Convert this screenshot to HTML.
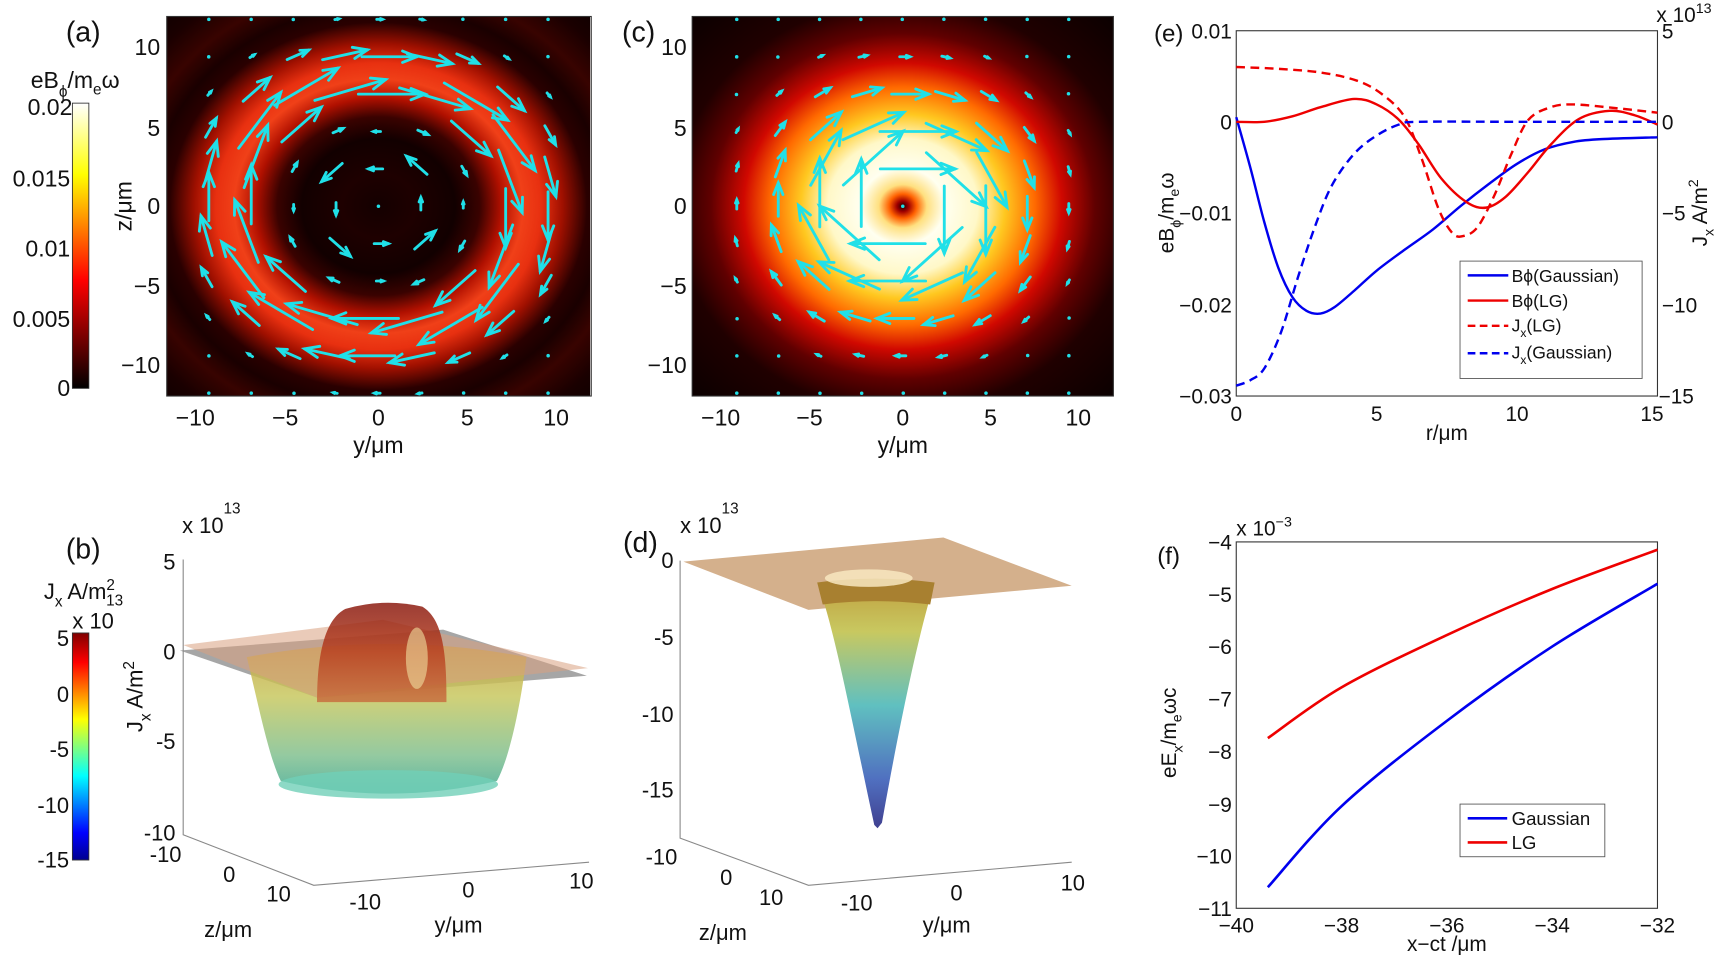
<!DOCTYPE html>
<html><head><meta charset="utf-8">
<style>
html,body{margin:0;padding:0;background:#fff;}
svg{display:block;font-family:"Liberation Sans",sans-serif;}
text{fill:#111;}
</style></head>
<body>
<svg id="s" width="1720" height="959" viewBox="0 0 1568 874.2" xmlns="http://www.w3.org/2000/svg">
<defs>
<radialGradient id="ga" gradientUnits="userSpaceOnUse" cx="0" cy="0" r="17">
<stop offset="0" stop-color="#140000"/>
<stop offset="0.12" stop-color="#1e0000"/>
<stop offset="0.25" stop-color="#120000"/>
<stop offset="0.33" stop-color="#3a0200"/>
<stop offset="0.4" stop-color="#b01000"/>
<stop offset="0.47" stop-color="#f04018"/>
<stop offset="0.53" stop-color="#e83010"/>
<stop offset="0.6" stop-color="#a01000"/>
<stop offset="0.68" stop-color="#2a0000"/>
<stop offset="0.74" stop-color="#1a0000"/>
<stop offset="0.82" stop-color="#380300"/>
<stop offset="0.92" stop-color="#1a0000"/>
<stop offset="1" stop-color="#100000"/>
</radialGradient>
<radialGradient id="gc" gradientUnits="userSpaceOnUse" cx="0" cy="0" r="17">
<stop offset="0" stop-color="#200000"/>
<stop offset="0.02" stop-color="#a00000"/>
<stop offset="0.045" stop-color="#ff6000"/>
<stop offset="0.08" stop-color="#ffe080"/>
<stop offset="0.14" stop-color="#fffff0"/>
<stop offset="0.25" stop-color="#fff8c8"/>
<stop offset="0.34" stop-color="#ffc820"/>
<stop offset="0.44" stop-color="#ff6a00"/>
<stop offset="0.53" stop-color="#d00800"/>
<stop offset="0.64" stop-color="#600000"/>
<stop offset="0.76" stop-color="#200000"/>
<stop offset="1" stop-color="#0a0000"/>
</radialGradient>
<linearGradient id="hot" x1="0" y1="1" x2="0" y2="0">
<stop offset="0" stop-color="#000"/><stop offset="0.38" stop-color="#f00"/>
<stop offset="0.75" stop-color="#ff0"/><stop offset="1" stop-color="#fff"/>
</linearGradient>
<linearGradient id="jet" x1="0" y1="1" x2="0" y2="0">
<stop offset="0" stop-color="#00008f"/><stop offset="0.12" stop-color="#0000ff"/>
<stop offset="0.37" stop-color="#00ffff"/><stop offset="0.62" stop-color="#ffff00"/>
<stop offset="0.87" stop-color="#ff0000"/><stop offset="1" stop-color="#800000"/>
</linearGradient>
<linearGradient id="bodyb" x1="0" y1="0" x2="0" y2="1">
<stop offset="0" stop-color="#c8a040"/><stop offset="0.35" stop-color="#c8c860"/>
<stop offset="0.75" stop-color="#80c090"/><stop offset="1" stop-color="#40a890"/>
</linearGradient>
<linearGradient id="dome" x1="0" y1="0" x2="0" y2="1">
<stop offset="0" stop-color="#8a1a10"/><stop offset="0.5" stop-color="#b84020"/><stop offset="1" stop-color="#c87040"/>
</linearGradient>
<linearGradient id="funnel" x1="0" y1="0" x2="0" y2="1">
<stop offset="0" stop-color="#c0a040"/><stop offset="0.2" stop-color="#c8c860"/>
<stop offset="0.5" stop-color="#60c0c0"/><stop offset="0.8" stop-color="#5070c0"/><stop offset="1" stop-color="#404090"/>
</linearGradient>
</defs>

<!-- (a) -->
<text x="60" y="38" font-size="26">(a)</text>
<g transform="translate(345,188) scale(16.45,14.5)"><rect x="-11.73" y="-11.93" width="23.46" height="23.86" fill="url(#ga)"/></g>
<rect x="152" y="15" width="387" height="346" fill="none" stroke="#333" stroke-width="1"/>
<g id="arrA"></g>
<g font-size="21" text-anchor="end">
<text x="146" y="50">10</text><text x="146" y="124">5</text><text x="146" y="195">0</text><text x="146" y="268">−5</text><text x="146" y="340">−10</text>
</g>
<g font-size="21" text-anchor="middle">
<text x="178" y="388">−10</text><text x="260" y="388">−5</text><text x="345" y="388">0</text><text x="426" y="388">5</text><text x="507" y="388">10</text>
<text x="345" y="413">y/μm</text>
</g>
<text transform="translate(120,188) rotate(-90)" font-size="21" text-anchor="middle">z/μm</text>
<rect x="66" y="94" width="15" height="260" fill="url(#hot)" stroke="#333" stroke-width="0.8"/>
<g font-size="21" text-anchor="end">
<text x="66" y="105">0.02</text><text x="64" y="170">0.015</text><text x="64" y="234">0.01</text><text x="64" y="298">0.005</text><text x="64" y="361">0</text>
</g>
<text x="28" y="80" font-size="21">eB<tspan font-size="14" dy="8">ϕ</tspan><tspan dy="-8">/m</tspan><tspan font-size="14" dy="6">e</tspan><tspan dy="-6">ω</tspan></text>

<!-- (c) -->
<text x="567" y="38" font-size="26">(c)</text>
<g transform="translate(823,188) scale(16.1,14.5)"><rect x="-11.93" y="-11.93" width="23.86" height="23.86" fill="url(#gc)"/></g>
<rect x="631" y="15" width="384" height="346" fill="none" stroke="#333" stroke-width="1"/>
<g id="arrC"></g>
<g font-size="21" text-anchor="end">
<text x="626" y="50">10</text><text x="626" y="124">5</text><text x="626" y="195">0</text><text x="626" y="268">−5</text><text x="626" y="340">−10</text>
</g>
<g font-size="21" text-anchor="middle">
<text x="657" y="388">−10</text><text x="738" y="388">−5</text><text x="823" y="388">0</text><text x="903" y="388">5</text><text x="983" y="388">10</text>
<text x="823" y="413">y/μm</text>
</g>

<!-- (e) -->
<text x="1052" y="38" font-size="22">(e)</text>
<rect x="1127" y="28" width="384" height="333" fill="none" stroke="#333" stroke-width="1"/>
<g id="curE" fill="none" stroke-width="2.2"></g>
<g font-size="19" text-anchor="end">
<text x="1123" y="35">0.01</text><text x="1123" y="118">0</text><text x="1123" y="201">−0.01</text><text x="1123" y="285">−0.02</text><text x="1123" y="368">−0.03</text>
</g>
<g font-size="19">
<text x="1515" y="35">5</text><text x="1515" y="118">0</text><text x="1515" y="201">−5</text><text x="1515" y="285">−10</text><text x="1512" y="368">−15</text>
<text x="1510" y="20">x 10<tspan font-size="13" dy="-8">13</tspan></text>
</g>
<g font-size="19" text-anchor="middle">
<text x="1127" y="384">0</text><text x="1255" y="384">5</text><text x="1383" y="384">10</text><text x="1506" y="384">15</text>
<text x="1319" y="401">r/μm</text>
</g>
<text transform="translate(1070,194) rotate(-90)" font-size="19" text-anchor="middle">eB<tspan font-size="13" dy="6">ϕ</tspan><tspan dy="-6">/m</tspan><tspan font-size="13" dy="5">e</tspan><tspan dy="-5">ω</tspan></text>
<text transform="translate(1556,194) rotate(-90)" font-size="19" text-anchor="middle">J<tspan font-size="13" dy="6">x</tspan><tspan dy="-6"> A/m</tspan><tspan font-size="13" dy="-8">2</tspan></text>
<rect x="1331" y="238" width="166" height="107" fill="#fff" stroke="#555" stroke-width="0.8"/>
<g stroke-width="2.2">
<line x1="1338" y1="251" x2="1375" y2="251" stroke="#0000ee"/>
<line x1="1338" y1="274" x2="1375" y2="274" stroke="#ee0000"/>
<line x1="1338" y1="297" x2="1375" y2="297" stroke="#ee0000" stroke-dasharray="7,4"/>
<line x1="1338" y1="322" x2="1375" y2="322" stroke="#0000ee" stroke-dasharray="7,4"/>
</g>
<g font-size="16">
<text x="1378" y="257">Bϕ(Gaussian)</text><text x="1378" y="280">Bϕ(LG)</text>
<text x="1378" y="302">J<tspan font-size="11" dy="5">x</tspan><tspan dy="-5">(LG)</tspan></text>
<text x="1378" y="327">J<tspan font-size="11" dy="5">x</tspan><tspan dy="-5">(Gaussian)</tspan></text>
</g>

<!-- (f) -->
<text x="1055" y="514" font-size="22">(f)</text>
<rect x="1127" y="494" width="384" height="334" fill="none" stroke="#333" stroke-width="1"/>
<g id="curF" fill="none" stroke-width="2.4"></g>
<g font-size="19" text-anchor="end">
<text x="1123" y="501">−4</text><text x="1123" y="549">−5</text><text x="1123" y="596">−6</text><text x="1123" y="644">−7</text><text x="1123" y="692">−8</text><text x="1123" y="740">−9</text><text x="1123" y="787">−10</text><text x="1123" y="835">−11</text>
</g>
<g font-size="19" text-anchor="middle">
<text x="1127" y="850">−40</text><text x="1223" y="850">−38</text><text x="1319" y="850">−36</text><text x="1415" y="850">−34</text><text x="1511" y="850">−32</text>
<text x="1319" y="867">x−ct /μm</text>
</g>
<text x="1127" y="488" font-size="19">x 10<tspan font-size="13" dy="-8">−3</tspan></text>
<text transform="translate(1072,668) rotate(-90)" font-size="19" text-anchor="middle">eE<tspan font-size="13" dy="6">x</tspan><tspan dy="-6">/m</tspan><tspan font-size="13" dy="5">e</tspan><tspan dy="-5">ωc</tspan></text>
<rect x="1331" y="733" width="132" height="48" fill="#fff" stroke="#555" stroke-width="0.8"/>
<line x1="1338" y1="746" x2="1374" y2="746" stroke="#0000ee" stroke-width="2.4"/>
<line x1="1338" y1="768" x2="1374" y2="768" stroke="#ee0000" stroke-width="2.4"/>
<text x="1378" y="752" font-size="17">Gaussian</text><text x="1378" y="774" font-size="17">LG</text>

<!-- (b) -->
<text x="60" y="509" font-size="26">(b)</text>
<rect x="66" y="577" width="15" height="207" fill="url(#jet)" stroke="#333" stroke-width="0.8"/>
<g font-size="20" text-anchor="end">
<text x="63" y="589">5</text><text x="63" y="640">0</text><text x="63" y="690">-5</text><text x="63" y="741">-10</text><text x="63" y="791">-15</text>
</g>
<text x="40" y="546" font-size="20">J<tspan font-size="14" dy="7">x</tspan><tspan dy="-7"> A/m</tspan><tspan font-size="14" dy="-8">2</tspan><tspan font-size="14" dy="14" dx="-8">13</tspan></text>
<text x="66" y="573" font-size="20">x 10</text>
<g stroke="#888" stroke-width="1" fill="none">
<polyline points="167,510 167,761 286,807 537,786"/>
</g>
<g font-size="20" text-anchor="end">
<text x="160" y="519">5</text><text x="160" y="601">0</text><text x="160" y="683">-5</text><text x="160" y="766">-10</text>
</g>
<text x="166" y="486" font-size="20">x 10<tspan font-size="14" dy="-18">13</tspan></text>
<text transform="translate(130,635) rotate(-90)" font-size="20" text-anchor="middle">J<tspan font-size="14" dy="7">x</tspan><tspan dy="-7"> A/m</tspan><tspan font-size="14" dy="-8">2</tspan></text>
<g font-size="20" text-anchor="middle">
<text x="151" y="786">-10</text><text x="209" y="804">0</text><text x="254" y="822">10</text><text x="208" y="854">z/μm</text>
<text x="333" y="829">-10</text><text x="427" y="818">0</text><text x="530" y="810">10</text><text x="418" y="850">y/μm</text>
</g>
<polygon points="164,593 404,574 535,616 289,636" fill="#888" opacity="0.75"/>
<path d="M225,599 C235,640 245,690 256,712 Q354,735 453,712 C465,690 475,640 480,599 Q354,575 225,599 Z" fill="url(#bodyb)" opacity="0.85"/>
<ellipse cx="354" cy="715" rx="100" ry="13" fill="#70d0b8" opacity="0.8"/>
<polygon points="167,588 349,565 536,609 289,636" fill="#d8a080" opacity="0.55"/>
<path d="M289,640 C289,600 295,565 315,555 Q350,545 385,553 C405,565 407,600 407,640 Z" fill="url(#dome)" opacity="0.85"/>
<ellipse cx="380" cy="600" rx="10" ry="28" fill="#f0e0a0" opacity="0.6"/>

<!-- (d) -->
<text x="568" y="503" font-size="26">(d)</text>
<g stroke="#888" stroke-width="1" fill="none"><polyline points="620,511 620,764 737,807 977,786"/></g>
<g font-size="20" text-anchor="end">
<text x="614" y="518">0</text><text x="614" y="588">-5</text><text x="614" y="658">-10</text><text x="614" y="727">-15</text>
</g>
<text x="620" y="486" font-size="20">x 10<tspan font-size="14" dy="-18">13</tspan></text>
<g font-size="20" text-anchor="middle">
<text x="603" y="788">-10</text><text x="662" y="807">0</text><text x="703" y="825">10</text><text x="659" y="857">z/μm</text>
<text x="781" y="830">-10</text><text x="872" y="821">0</text><text x="978" y="812">10</text><text x="863" y="850">y/μm</text>
</g>
<polygon points="623,512 860,490 977,534 737,556" fill="#d4b08c"/>
<path d="M745,531 C760,570 775,650 797,752 L800,755 L804,750 C820,660 838,575 852,531 Z" fill="url(#funnel)"/>
<path d="M745,531 Q798,524 852,531 L848,551 Q798,545 750,551 Z" fill="#a88030"/>
<ellipse cx="792" cy="527" rx="40" ry="8" fill="#f8e8c0" opacity="0.85"/>
</svg>
<script>
(function(){
var NS="http://www.w3.org/2000/svg";
function el(p,tag,at){var e=document.createElementNS(NS,tag);for(var k in at)e.setAttribute(k,at[k]);p.appendChild(e);return e;}
function arrows(gid,cx,cy,sx,sy,fn,scale){
 var g=document.getElementById(gid);
 for(var i=-5;i<=5;i++)for(var j=-5;j<=5;j++){
  var y=i*2.35,z=j*2.35,r=Math.sqrt(y*y+z*z);
  if(Math.abs(y)>11.6||Math.abs(z)>11.8)continue;
  var v=r<0.1?0:fn(r);
  var ty=z/(r||1),tz=-y/(r||1);
  var L=v*scale;
  var x0=cx+y*sx-ty*L*sx*0.3,y0=cy-z*sy+tz*L*sy*0.3;
  var dx=ty*L*sx,dy=-tz*L*sy;
  var x1=x0+dx,y1=y0+dy;
  var len=Math.sqrt(dx*dx+dy*dy);
  if(len<3){el(g,"circle",{cx:x0,cy:y0,r:1.6,fill:"#20e0e8"});continue;}
  el(g,"line",{x1:x0,y1:y0,x2:x1,y2:y1,stroke:"#20e0e8","stroke-width":2.6,"stroke-linecap":"round"});
  var ux=dx/len,uy=dy/len,h=Math.min(13,len*0.35);
  var p=(x1-ux*h-uy*h*0.4)+","+(y1-uy*h+ux*h*0.4)+" "+x1+","+y1+" "+(x1-ux*h+uy*h*0.4)+","+(y1-uy*h-ux*h*0.4);
  el(g,"polyline",{points:p,fill:"none",stroke:"#20e0e8","stroke-width":2.6,"stroke-linecap":"round"});
 }
}
arrows("arrA",345,188,16.45,14.5,function(r){return Math.exp(-Math.pow((r-8)/2.3,2))-0.4*Math.exp(-Math.pow((r-3.6)/1.4,2));},4.4);
arrows("arrC",823,188,16.1,14.5,function(r){return (r/3.5)*Math.exp(0.5*(1-Math.pow(r/3.5,2)));},4.8);
function smooth(pts){var d="M"+pts[0][0]+","+pts[0][1];
 for(var i=0;i<pts.length-1;i++){var p0=pts[i-1]||pts[i],p1=pts[i],p2=pts[i+1],p3=pts[i+2]||p2;
  d+=" C"+(p1[0]+(p2[0]-p0[0])/6)+","+(p1[1]+(p2[1]-p0[1])/6)+" "+(p2[0]-(p3[0]-p1[0])/6)+","+(p2[1]-(p3[1]-p1[1])/6)+" "+p2[0]+","+p2[1];}
 return d;}
function ex(r){return 1127+r*25.6;} function ey(v){return 111-v*8325;}
var ge=document.getElementById("curE");
function curve(g,data,fx,fy,col,dash){var pts=data.map(function(p){return [fx(p[0]),fy(p[1])];});
 var a={d:smooth(pts),stroke:col};if(dash)a["stroke-dasharray"]="8,5";el(g,"path",a);}
curve(ge,[[0,0.0005],[0.5,-0.005],[1,-0.011],[1.5,-0.016],[2,-0.0192],[2.5,-0.0207],[3,-0.021],[3.5,-0.0203],[4.2,-0.0185],[5,-0.0163],[6,-0.014],[7,-0.0118],[8,-0.0092],[9,-0.0068],[10,-0.0046],[11,-0.003],[12,-0.0022],[13,-0.0019],[15,-0.0017]],ex,ey,"#0000ee");
curve(ge,[[0,0],[1,0],[2,0.0006],[3,0.0016],[4.2,0.0025],[5,0.0019],[5.8,0.0002],[6.5,-0.0025],[7.3,-0.0062],[8.2,-0.0088],[8.9,-0.0094],[9.6,-0.0082],[10.4,-0.0055],[11.2,-0.0025],[12.2,0.0003],[13.3,0.0012],[14.2,0.0007],[15,-0.0003]],ex,ey,"#ee0000");
curve(ge,[[0,0.006],[1.5,0.0058],[3,0.0054],[4.3,0.0045],[5.2,0.003],[6,0.0005],[6.6,-0.004],[7.2,-0.0095],[7.7,-0.0122],[8.1,-0.0125],[8.6,-0.0115],[9.2,-0.008],[9.8,-0.0035],[10.4,0.0002],[11.2,0.0016],[12,0.0019],[13.5,0.0015],[15,0.001]],ex,ey,"#ee0000",1);
curve(ge,[[0,-0.0289],[0.5,-0.0283],[1,-0.027],[1.6,-0.023],[2.2,-0.017],[2.8,-0.0115],[3.4,-0.007],[4.2,-0.0035],[5,-0.0015],[5.8,-0.0003],[6.5,0],[10,0],[15,0]],ex,ey,"#0000ee",1);
function fx(x){return 1127+(x+40)*48;} function fy(v){return 494-(v+4)*47.7;}
var gf=document.getElementById("curF");
curve(gf,[[-39.4,-7.75],[-38,-6.78],[-36,-5.78],[-34,-4.9],[-32,-4.15]],fx,fy,"#ee0000");
curve(gf,[[-39.4,-10.6],[-38,-9.05],[-36,-7.42],[-34,-6.0],[-32,-4.8]],fx,fy,"#0000ee");
})();
</script>
</body></html>
